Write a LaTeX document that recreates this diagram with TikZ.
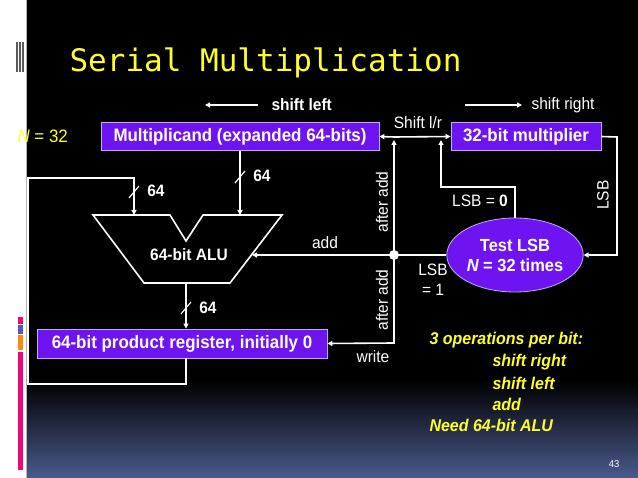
\documentclass[tikz,border=0pt]{standalone}
\usepackage{fontspec}
\setmainfont[FakeStretch=0.94]{Liberation Sans}
\newfontfamily\titlefont{DejaVu Sans Mono}
\usetikzlibrary{arrows.meta,shapes.geometric}
\definecolor{boxv}{RGB}{110,20,240}
\definecolor{boxb}{RGB}{190,170,255}
\definecolor{ylw}{RGB}{255,255,40}
\definecolor{bot}{RGB}{75,90,140}
\tikzset{
  reg/.style={draw=boxb,line width=0.8pt,fill=boxv,text=white,font=\fontsize{18}{20}\selectfont\bfseries,inner sep=0pt,minimum height=28pt,text height=13pt,text depth=3pt,anchor=center},
  wire/.style={draw=white,line width=1.6pt},
  arr/.style={wire,-{Triangle[width=5pt,length=5pt]}},
  lbl/.style={text=white,font=\fontsize{16.5}{18}\selectfont},
  blbl/.style={text=white,font=\fontsize{16.5}{18}\selectfont\bfseries},
  note/.style={text=ylw,font=\fontsize{17}{19}\selectfont\bfseries\itshape,anchor=west},
}
\begin{document}
\begin{tikzpicture}[x=1pt,y=-1pt]
\useasboundingbox (0,0) rectangle (638,478);
\fill[white] (0,0) rectangle (26,478);
\fill[black] (26,0) rectangle (638,380);
\shade[top color=black,bottom color=bot] (26,380) rectangle (638,478);
\draw[gray!60,line width=0.6pt] (26,0) -- (26,478);
\foreach \x in {16,19,22} \fill[gray!70!black] (\x,42) rectangle (\x+1.6,72);
\fill[magenta!80!red] (18,317) rectangle (23,324);
\fill[gray!70!blue] (18,325) rectangle (23,334);
\fill[orange!90!yellow] (18,335) rectangle (23,350);
\fill[magenta!80!red] (18,352) rectangle (23,470);
% title
\node[text=ylw,font=\titlefont\fontsize{31}{34}\selectfont,anchor=west] (title) at (66,63) {Serial Multiplication};
% shift labels
\coordinate (sl1) at (258,105); \coordinate (sl2) at (205,105);
\draw[arr,line width=1.2pt] (sl1) -- (sl2);
\node[blbl,anchor=west] (sl) at (268,105) {shift left};
\coordinate (sr1) at (465,105); \coordinate (sr2) at (522,105);
\draw[arr,line width=1.2pt] (sr1) -- (sr2);
\node[lbl,anchor=west] (sr) at (528,105) {shift right};
\node[text=ylw,font=\fontsize{18}{20}\selectfont,anchor=west] (n32) at (14,136) {\itshape N\upshape\ = 32};
% boxes
\node[reg,minimum width=278pt] (mc) at (240,136.5) {Multiplicand (expanded 64-bits)};
\node[reg,minimum width=150pt] (mp) at (526,136.5) {32-bit multiplier};
\node[reg,minimum width=290pt,minimum height=29pt] (pr) at (182,343.5) {64-bit product register, initially 0};
\node[ellipse,draw=boxb,line width=0.8pt,fill=boxv,text=white,minimum width=116pt,minimum height=74pt,inner sep=0pt,font=\fontsize{17.5}{19}\selectfont\bfseries,align=center] (tl) at (515,255) {Test LSB\\[1pt]\itshape N\upshape\ = 32 times};
% ALU
\draw[white,line width=1.6pt] (93,215) -- (170,215) -- (186,241) -- (203,215) -- (282,215) -- (230,283) -- (144,283) -- cycle;
\node[blbl] (alu) at (189,255) {64-bit ALU};
\coordinate (aluA) at (134,215);
\coordinate (aluB) at (240,215);
\coordinate (aluO) at (186,283);
% junction
\coordinate (j) at (394,255);
\draw[wire] (tl.west) -- (j);
\draw[arr] (j) -- (252,255);
\fill[white] (j) circle (5);
\node[lbl] (add) at (325,243) {add};
% shift l/r
\coordinate (sm) at (394,137);
\draw[arr] (sm) -- (mc.east);
\draw[arr] (sm) -- (mp.west);
\draw[arr] (j) -- (394,140);
\node[lbl] (shl) at (418,123) {Shift l/r};
\draw[arr] (tl.north) -- (515,187) -- (441,187) -- (441,140);
\node[lbl] (l0) at (480,201) {LSB = \textbf{0}};
\draw[arr] (mp.east) -- (617,137) -- (617,255) -- (tl.east);
\node[lbl,rotate=90] (lsbv) at (603,195) {LSB};
\node[lbl,rotate=90] (aa1) at (382,202) {after add};
\node[lbl,rotate=90] (aa2) at (382,300) {after add};
\node[lbl,align=center] (l1) at (433,280) {LSB\\[2pt]= 1};
% write path
\draw[arr] (j) -- (394,343) -- (pr.east);
\node[lbl] (wr) at (373,357) {write};
% data paths
\draw[arr] (mc.south -| aluB) -- (aluB);
\draw[white,line width=1.2pt] (235,183) -- (245,171);
\node[blbl] (b64a) at (262,176) {64};
\draw[arr] (pr.south -| aluO) -- (aluO |- 0,384) -- (28,384) -- (28,178) -- (134,178) -- (aluA);
\draw[white,line width=1.2pt] (129,198) -- (139,186);
\node[blbl] (b64b) at (156,191) {64};
\draw[arr] (aluO) -- (pr.north -| aluO);
\draw[white,line width=1.2pt] (181,314) -- (191,302);
\node[blbl] (b64c) at (208,308) {64};
% notes
\node[note] (n1) at (426,340) {3 operations per bit:};
\node[note] (n2) at (489,362) {shift right};
\node[note] (n3) at (489,383) {shift left};
\node[note] (n4) at (489,404) {add};
\node[note] (n5) at (426,425) {Need 64-bit ALU};
\node[text=white,font=\fontsize{10}{12}\selectfont] (pg) at (614,464) {43};
\end{tikzpicture}
\end{document}
